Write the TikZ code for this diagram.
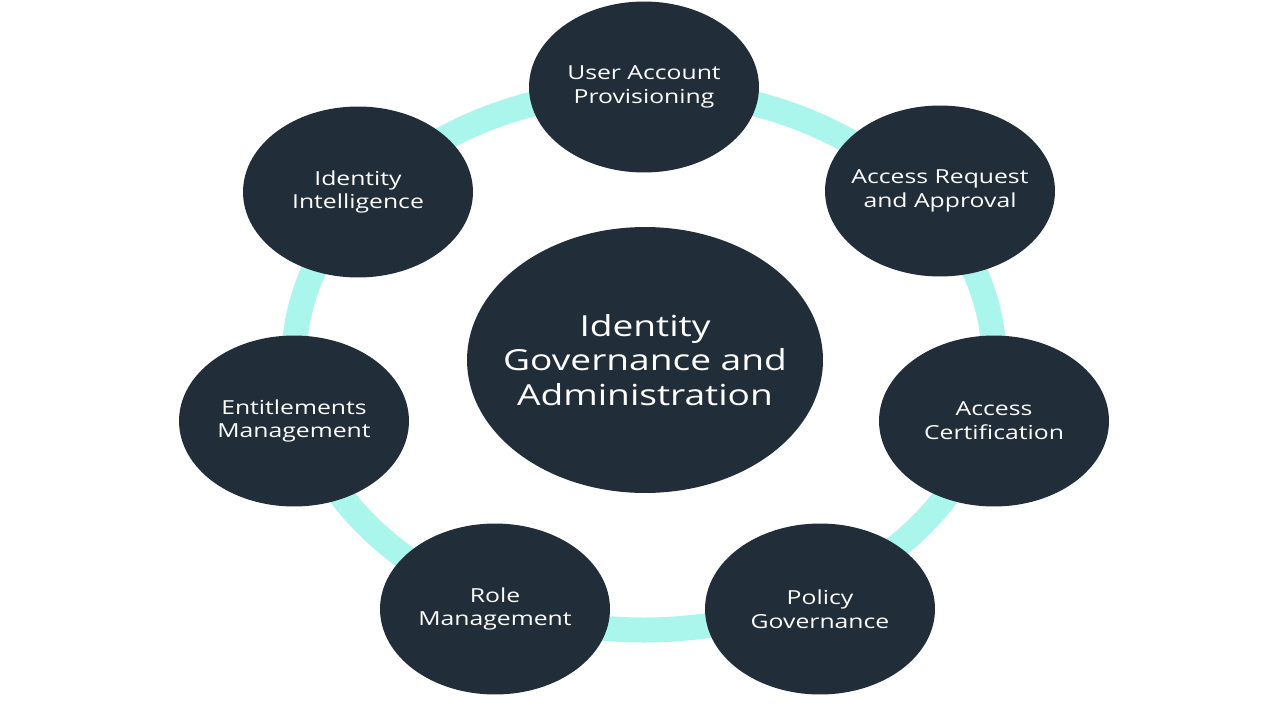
\documentclass[tikz,border=0pt]{standalone}
\usepackage{fontspec}
\setmainfont{Open Sans}[FakeStretch=1.28]
\usetikzlibrary{shapes.geometric}
\definecolor{darkslate}{HTML}{222D3A}
\definecolor{aquaring}{HTML}{AAF5EC}

\begin{document}
\begin{tikzpicture}[
    x=0.02cm, y=-0.02cm,
    sat/.style={ellipse, fill=darkslate, text=white, minimum width=4.6cm, minimum height=3.42cm, inner sep=-0.5cm, align=center, font=\fontsize{11}{13.6}\selectfont},
    hub/.style={ellipse, fill=darkslate, text=white, minimum width=7.12cm, minimum height=5.32cm, inner sep=-0.5cm, align=center, font=\fontsize{16.5}{19.8}\selectfont},
]
    \useasboundingbox[fill=white] (0,0) rectangle (1280,720);
    \coordinate (ringc) at (644,360);
    \draw[aquaring, line width=0.5cm] (ringc) ellipse [x radius=350, y radius=270];

    \node[hub] (iga) at (645,360) {Identity\\Governance and\\Administration};

    \node[sat] (uap) at (644,87) {User Account\\Provisioning};
    \node[sat] (ara) at (940,191) {Access Request\\and Approval};
    \node[sat] (acc) at (994,421) {Access\\Certification};
    \node[sat] (pol) at (820,609) {Policy\\Governance};
    \node[sat] (role) at (495,609) {Role\\Management};
    \node[sat] (ent) at (294,421) {Entitlements\\Management};
    \node[sat] (intel) at (358,192) {Identity\\Intelligence};
\end{tikzpicture}
\end{document}
